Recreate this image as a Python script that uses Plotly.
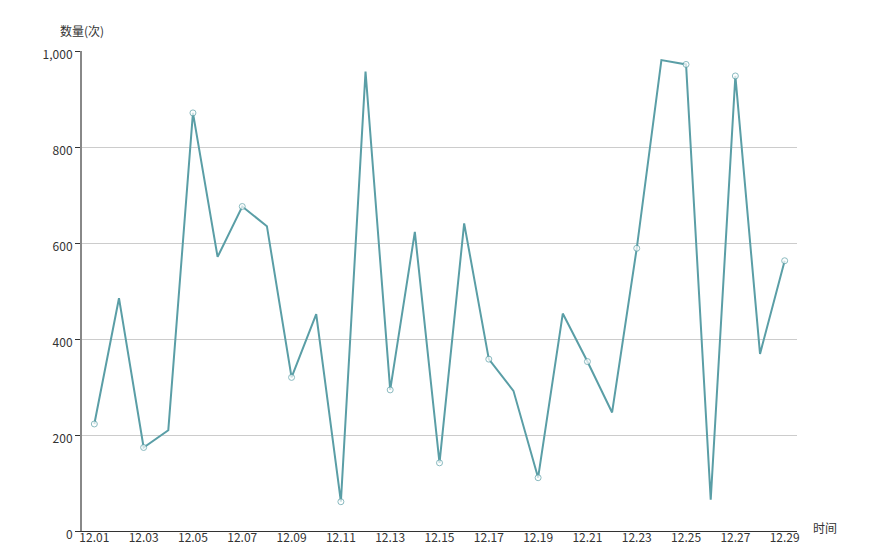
import plotly.graph_objects as go

categories = ["12.%02d" % d for d in range(1, 30)]
values = [223, 485, 174, 210, 871, 571, 676, 635, 320, 452,
          61, 957, 294, 623, 142, 641, 358, 292, 111, 453,
          353, 247, 589, 981, 972, 65, 948, 369, 563]
tick_labels = categories[::2]
y_ticks = [0, 200, 400, 600, 800, 1000]

line_color = "#5a9ea6"
font_family = "Noto Sans CJK SC, Noto Sans, sans-serif"

marker_sizes = [6 if i % 2 == 0 else 0 for i in range(len(values))]

fig = go.Figure()
fig.add_trace(go.Scatter(
    x=categories, y=values, mode="lines+markers",
    line=dict(color=line_color, width=2),
    marker=dict(size=marker_sizes, color="white",
                line=dict(color=line_color, width=1)),
    showlegend=False,
))

fig.update_layout(
    width=868, height=548,
    margin=dict(l=74, r=79, t=43, b=25),
    plot_bgcolor="white", paper_bgcolor="white",
    font=dict(family=font_family, size=12, color="#333"),
    xaxis=dict(
        type="category", tickmode="array",
        tickvals=tick_labels, ticktext=tick_labels,
        showgrid=False, showline=True, linecolor="#333", linewidth=1,
        ticks="", range=[-0.5, len(categories) - 0.5],
        zeroline=False, tickfont=dict(size=12, color="#333"),
        ticklabelstandoff=-4, automargin=False,
    ),
    yaxis=dict(
        range=[0, 1000], tickvals=y_ticks, tickformat=",d",
        showgrid=True, gridcolor="#cccccc", gridwidth=1,
        showline=True, linecolor="#888", linewidth=2,
        ticks="outside", ticklen=5, tickcolor="#333",
        zeroline=False, tickfont=dict(size=12, color="#333"),
        ticklabelshift=4, automargin=False,
    ),
    annotations=[
        dict(text="数量(次)", xref="paper", yref="paper", x=0, y=1.0,
             xanchor="center", yanchor="bottom", yshift=10, showarrow=False,
             font=dict(size=12, color="#333")),
        dict(text="时间", xref="paper", yref="paper", x=1.0, y=0,
             xanchor="left", yanchor="middle", xshift=14, yshift=4,
             showarrow=False, font=dict(size=12, color="#333")),
    ],
)

fig.write_html("out.html")
